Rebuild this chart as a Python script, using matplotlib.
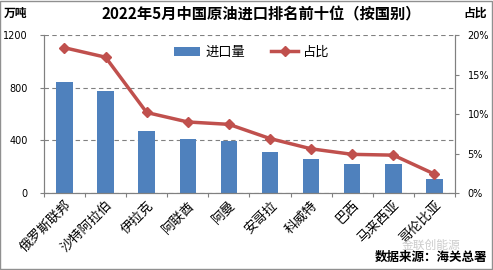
import numpy as np
import matplotlib.pyplot as plt
from matplotlib.patches import Rectangle

plt.rcParams['font.family'] = ['Noto Sans CJK SC', 'DejaVu Sans']

# === DATA ===
countries = ['俄罗斯联邦', '沙特阿拉伯', '伊拉克', '阿联酋', '阿曼',
             '安哥拉', '科威特', '巴西', '马来西亚', '哥伦比亚']
volume = [841, 779, 472, 411, 399, 313, 260, 222, 222, 108]        # 万吨
share = [18.4, 17.2, 10.2, 9.0, 8.7, 6.9, 5.6, 4.9, 4.8, 2.4]      # %
left_ticks = [0, 400, 800, 1200]
right_ticks = [0, 5, 10, 15, 20]

BAR_COLOR = '#4F81BD'
LINE_COLOR = '#C0504D'

# === FIGURE ===
fig = plt.figure(figsize=(4.93, 2.70), dpi=100)
ax = fig.add_axes([0.089, 0.285, 0.834, 0.585])
ax2 = ax.twinx()

x = np.arange(len(countries))
bars = ax.bar(x, volume, width=0.4, color=BAR_COLOR, zorder=2, label='进口量')
line, = ax2.plot(x, share, color=LINE_COLOR, lw=2.5, marker='D', ms=5,
                 label='占比', zorder=3)

ax.set_xlim(-0.5, len(countries) - 0.5)
ax.set_ylim(0, 1200)
ax.set_yticks(left_ticks)
ax.set_yticklabels([str(v) for v in left_ticks], fontsize=7,
                   family='DejaVu Sans')
ax.yaxis.grid(True, ls=(0, (4, 3)), color='#808080', lw=0.8)
ax.set_axisbelow(True)

ax2.set_ylim(0, 20)
ax2.set_yticks(right_ticks)
ax2.set_yticklabels([f'{v}%' for v in right_ticks], fontsize=7,
                    family='DejaVu Sans')

# category ticks between groups
ax.set_xticks(np.arange(-0.5, len(countries), 1.0), minor=False)
ax.set_xticklabels([])
ax.set_xticks(x, minor=True)
ax.set_xticklabels(countries, minor=True, rotation=45, ha='right',
                   rotation_mode='anchor', fontsize=9.5)
ax.tick_params(axis='x', which='minor', length=0, pad=4)
ax.tick_params(axis='x', which='major', length=3, color='#808080')
ax.tick_params(axis='y', length=3, color='#808080', pad=8.5)
ax2.tick_params(axis='y', length=3, color='#808080', pad=6)

for a in (ax, ax2):
    a.spines['top'].set_visible(False)
    for s in ('left', 'right', 'bottom'):
        a.spines[s].set_color('#808080')

# legend
ax.legend([bars, line], ['进口量', '占比'], loc='upper center',
          bbox_to_anchor=(0.505, 0.99), ncol=2, frameon=False, fontsize=9.5,
          handlelength=2.0, columnspacing=2.0, handletextpad=0.4,
          borderaxespad=0.3)

# texts
fig.text(0.53, 0.945, '2022年5月中国原油进口排名前十位（按国别）',
         ha='center', va='center', fontsize=11, fontweight='bold')
fig.text(0.008, 0.952, '万吨', ha='left', va='center', fontsize=8.5,
         fontweight='bold')
fig.text(0.988, 0.952, '占比', ha='right', va='center', fontsize=8.5,
         fontweight='bold')
fig.text(0.875, 0.092, '金联创能源', ha='center', va='center', fontsize=8.5,
         color='#cccccc')
fig.text(0.988, 0.045, '数据来源：海关总署', ha='right', va='center',
         fontsize=9, fontweight='bold')

fig.patches.append(Rectangle((0.001, 0.002), 0.997, 0.995,
                             transform=fig.transFigure, fill=False,
                             edgecolor='#909090', lw=1))

fig.savefig('out.png', dpi=100)
